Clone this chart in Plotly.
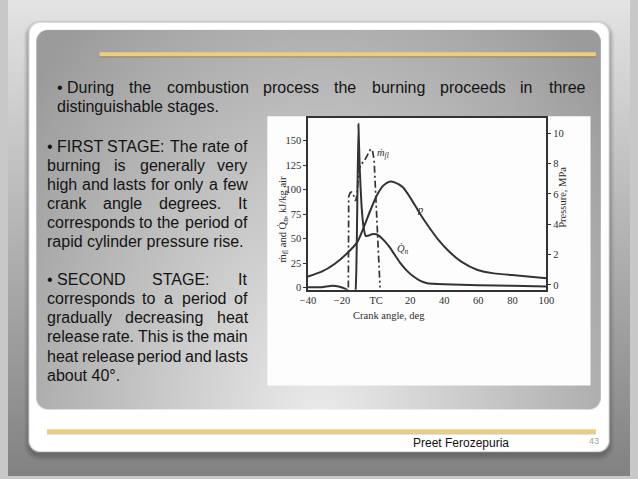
import base64
import struct
import zlib

import numpy as np
import plotly.graph_objects as go

# ---------------- chart data ----------------
crank_p = [-40, -32, -24.4, -16.7, -11, -7.2, -3.4, 0.4, 4.2, 7.7, 10.9, 15.7, 20.5,
           25.2, 31, 36.7, 42.4, 50, 59.6, 69.1, 84.4, 100]
pressure_mpa = [0.55, 0.87, 1.38, 2.12, 2.84, 3.82, 4.91, 5.9, 6.55, 6.81, 6.77, 6.44,
                5.68, 4.8, 3.82, 2.95, 2.25, 1.53, 0.98, 0.76, 0.61, 0.44]

crank_q = [-40, -32, -26, -22, -18, -15.6, -13.7, -12.2, -11.4, -10.4, -9.6, -8.6, -7.4,
           -6.2, -5, -2.5, 0, 2, 5, 8, 11, 14, 18, 22, 26, 30, 40, 60, 80, 100]
heat_release = [0.3, 0.3, 1.7, 1, -1.4, -4, -5.8, -4.7, 40, 167, 120, 85, 62,
                53, 52.8, 54.5, 54.5, 52.5, 47.4, 41, 33.2, 25.4, 17.3, 11.2, 6.8, 4.4,
                3.4, 2.4, 1.7, 1]

crank_m = [-16.3, -16.1, -15.2, -14.4, -13.2, -12, -11.2, -10.2, -9.1, -7.2, -5.5, -4.2,
           -3.2, -2.2, -1.2, 2.3]
fuel_rate = [0, 93, 97, 97.5, 94, 88.4, 95, 118, 126, 128.5, 134, 139, 141.5, 140.5,
             131, 0]

x_tick_vals = [-40, -20, 0, 20, 40, 60, 80, 100]
x_tick_text = ["\u221240", "\u221220", "TC", "20", "40", "60", "80", "100"]
left_tick_vals = [0, 25, 50, 75, 100, 125, 150]
right_tick_vals = [0, 2, 4, 6, 8, 10]

# ---------------- slide text ----------------
top_lines = ["\u2022 During the combustion process the burning proceeds in three",
             "distinguishable stages."]
para1_lines = ["\u2022 FIRST STAGE: The rate of",
               "burning is generally very",
               "high and lasts for only a few",
               "crank angle degrees. It",
               "corresponds to the period of",
               "rapid cylinder pressure rise."]
para2_lines = ["\u2022 SECOND STAGE: It",
               "corresponds to a period of",
               "gradually decreasing heat",
               "release rate. This is the main",
               "heat release period and lasts",
               "about 40\u00b0."]
footer_name = "Preet Ferozepuria"
page_number = "43"

W, H = 638, 479


def px(x):
    return x / W


def py(y):
    return 1 - y / H


# ---------------- background picture (gradients of the slide) ----------------
yy, xx = np.mgrid[0:H, 0:W].astype(float) + 0.5


def sdf_rr(x0, y0, x1, y1, r):
    cx, cy = (x0 + x1) / 2, (y0 + y1) / 2
    bx, by = (x1 - x0) / 2 - r, (y1 - y0) / 2 - r
    qx = np.abs(xx - cx) - bx
    qy = np.abs(yy - cy) - by
    out = np.hypot(np.maximum(qx, 0), np.maximum(qy, 0))
    ins = np.minimum(np.maximum(qx, qy), 0)
    return out + ins - r


base = 228 - 98 * (yy / H)
img = base.copy()
d_sh = sdf_rr(21, 25, 617, 459, 12)
a = np.clip(1 - (d_sh + 1) / 6, 0, 1) * 0.45
img = img * (1 - a) + 70 * a
d_card = sdf_rr(21, 22, 617, 455, 12)
a = np.clip(0.5 - d_card, 0, 1)
edge = np.clip(1 - np.abs(d_card + 0.5), 0, 1) * 0.4
img = img * (1 - a) + 255 * a
img = img * (1 - edge) + 150 * edge
d_in = sdf_rr(29, 30, 608, 412, 12)
a = np.clip(0.5 - d_in, 0, 1)
dd = np.sqrt(((xx - 320) / 330) ** 2 + ((yy - 430) / 470) ** 2)
g = 236 - 70 * np.clip(dd, 0, 1.15)
img = img * (1 - a) + g * a
arr = np.clip(np.repeat(img[..., None], 3, axis=2), 0, 255).astype(np.uint8)


def png_bytes(rgb):
    h, w, _ = rgb.shape
    raw = b"".join(b"\x00" + rgb[i].tobytes() for i in range(h))

    def chunk(t, data):
        c = struct.pack(">I", len(data)) + t + data
        return c + struct.pack(">I", zlib.crc32(t + data) & 0xFFFFFFFF)

    return (b"\x89PNG\r\n\x1a\n"
            + chunk(b"IHDR", struct.pack(">IIBBBBB", w, h, 8, 2, 0, 0, 0))
            + chunk(b"IDAT", zlib.compress(raw, 9))
            + chunk(b"IEND", b""))


bg_uri = "data:image/png;base64," + base64.b64encode(png_bytes(arr)).decode()

# ---------------- justified text helper (Arial metrics) ----------------
AW = {" ": 278, ".": 278, ",": 278, ":": 278, "\u2022": 350, "\u00b0": 400,
      "0": 556, "4": 556}
for ch in "ABEKPSVXY":
    AW[ch] = 667
for ch in "CDHNRUw":
    AW[ch] = 722
for ch in "FTZ":
    AW[ch] = 611
AW.update({"G": 778, "O": 778, "Q": 778, "I": 278, "J": 500, "L": 556, "M": 833,
           "W": 944})
for ch in "abdeghnopqu":
    AW[ch] = 556
for ch in "cksvxyz":
    AW[ch] = 500
AW.update({"f": 278, "t": 278, "i": 222, "j": 222, "l": 222, "m": 833, "r": 333})


def text_w(s, size):
    return sum(AW.get(c, 556) for c in s) * size / 1000.0


TEXT_FONT = dict(family="Liberation Sans, Arial, sans-serif", size=16, color="#141414")
annotations = []


def add_paragraph(lines, x0, x1, y0, dy, size=16):
    for i, line in enumerate(lines):
        y = y0 + i * dy
        last = i == len(lines) - 1
        words = line.split(" ")
        if words[0] == "\u2022":
            words = ["\u2022 " + words[1]] + words[2:]
        if last or len(words) == 1:
            annotations.append(dict(x=px(x0), y=py(y), xref="paper", yref="paper",
                                    text=line, showarrow=False, xanchor="left",
                                    yanchor="middle", font=TEXT_FONT, borderpad=0))
            continue
        total = sum(text_w(w, size) for w in words)
        gap = (x1 - x0 - total) / (len(words) - 1)
        x = x0
        for w in words:
            annotations.append(dict(x=px(x), y=py(y), xref="paper", yref="paper",
                                    text=w, showarrow=False, xanchor="left",
                                    yanchor="middle", font=TEXT_FONT, borderpad=0))
            x += text_w(w, size) + gap


add_paragraph(top_lines, 49, 590, 88, 18.7)
add_paragraph(para1_lines, 39, 244, 147, 19.3)
add_paragraph(para2_lines, 39, 244, 281.5, 19.2)

annotations.append(dict(x=px(465), y=py(446), xref="paper", yref="paper", text=footer_name,
                        showarrow=False, xanchor="center", yanchor="middle",
                        font=dict(family="Liberation Sans, Arial", size=12, color="#111")))
annotations.append(dict(x=px(601), y=py(444), xref="paper", yref="paper", text=page_number,
                        showarrow=False, xanchor="center", yanchor="middle",
                        font=dict(family="Liberation Sans, Arial", size=9, color="#a0a0a0")))

# ---------------- chart annotations ----------------
SERIF = "Liberation Serif, Times New Roman, serif"
CH = "#2e2e2e"
annotations += [
    dict(x=px(283), y=py(220), xref="paper", yref="paper", textangle=-90,
         text="\u1e41<sub>fl</sub> and Q\u0307<sub>n</sub>, kJ/kg air", showarrow=False,
         font=dict(family=SERIF, size=10.5, color=CH)),
    dict(x=px(577), y=py(199), xref="paper", yref="paper", textangle=-90,
         text="Pressure, MPa", showarrow=False, font=dict(family=SERIF, size=10.5, color=CH)),
    dict(x=px(430), y=py(317), xref="paper", yref="paper", text="Crank angle, deg",
         showarrow=False, font=dict(family=SERIF, size=10.5, color=CH)),
    dict(x=4, y=137, xref="x", yref="y", text="<i>\u1e41<sub>fl</sub></i>", showarrow=False,
         font=dict(family=SERIF, size=10.5, color=CH)),
    dict(x=25.5, y=80, xref="x", yref="y", text="<i>p</i>", showarrow=False,
         font=dict(family=SERIF, size=10.5, color=CH)),
    dict(x=16, y=39, xref="x", yref="y", text="<i>Q\u0307<sub>n</sub></i>", showarrow=False,
         font=dict(family=SERIF, size=10.5, color=CH)),
]

# ---------------- shapes ----------------
GOLD = "#EDCF7A"
shapes = [
    dict(type="rect", xref="paper", yref="paper", x0=px(266), x1=px(597.5), y0=py(388),
         y1=py(117), fillcolor="#fdfdfd", line=dict(width=0), layer="below"),
    dict(type="line", xref="paper", yref="paper", x0=px(94), x1=px(603), y0=py(57),
         y1=py(57), line=dict(color="rgba(110,100,80,0.45)", width=1.5), layer="below"),
    dict(type="line", xref="paper", yref="paper", x0=px(94), x1=px(603), y0=py(54.5),
         y1=py(54.5), line=dict(color=GOLD, width=4), layer="below"),
    dict(type="line", xref="paper", yref="paper", x0=px(40), x1=px(603), y0=py(436.5),
         y1=py(436.5), line=dict(color="rgba(110,100,80,0.35)", width=1.5), layer="below"),
    dict(type="line", xref="paper", yref="paper", x0=px(40), x1=px(603), y0=py(434),
         y1=py(434), line=dict(color=GOLD, width=4), layer="below"),
]

# ---------------- figure ----------------
LINE = dict(color="#333333", width=2)
fig = go.Figure()
fig.add_trace(go.Scatter(x=crank_p, y=pressure_mpa, yaxis="y2", mode="lines",
                         line=dict(LINE, shape="spline", smoothing=0.6), name="p"))
fig.add_trace(go.Scatter(x=crank_q, y=heat_release, mode="lines",
                         line=dict(LINE, shape="spline", smoothing=0.3), name="Qn"))
fig.add_trace(go.Scatter(x=crank_m, y=fuel_rate, mode="lines",
                         line=dict(color="#333333", width=1.7, dash="7px,3px,2px,3px"),
                         name="mf"))

fig.update_layout(
    width=W, height=H, autosize=False,
    margin=dict(l=0, r=0, t=0, b=0, pad=0),
    paper_bgcolor="#c8c8c8", plot_bgcolor="rgba(0,0,0,0)",
    showlegend=False,
    images=[dict(source=bg_uri, xref="paper", yref="paper", x=0, y=1, sizex=1, sizey=1,
                 xanchor="left", yanchor="top", sizing="stretch", layer="below")],
    shapes=shapes, annotations=annotations,
    xaxis=dict(domain=[px(307.7), px(552.3)], range=[-40, 100], tickvals=x_tick_vals,
               ticktext=x_tick_text, showgrid=False, zeroline=False, showline=True,
               mirror=True, linecolor="#333333", linewidth=1.5, ticks="",
               tickfont=dict(family=SERIF, size=10.5, color=CH)),
    yaxis=dict(domain=[py(291.7), py(119)], range=[-2.4, 173], tickvals=left_tick_vals,
               showgrid=False, zeroline=False, showline=True, linecolor="#333333",
               linewidth=1.5, ticks="outside", ticklen=3, tickcolor="#333333",
               tickfont=dict(family=SERIF, size=10.5, color=CH)),
    yaxis2=dict(overlaying="y", side="right", range=[-0.33, 11.0], tickvals=right_tick_vals,
                showgrid=False, zeroline=False, showline=True, linecolor="#333333",
                linewidth=1.5, ticks="outside", ticklen=3, tickcolor="#333333",
                tickfont=dict(family=SERIF, size=10.5, color=CH)),
)

fig.write_html("out.html", config={"displayModeBar": False},
               post_script="document.body.style.margin='0px';"
                           "document.body.style.overflow='hidden';")
